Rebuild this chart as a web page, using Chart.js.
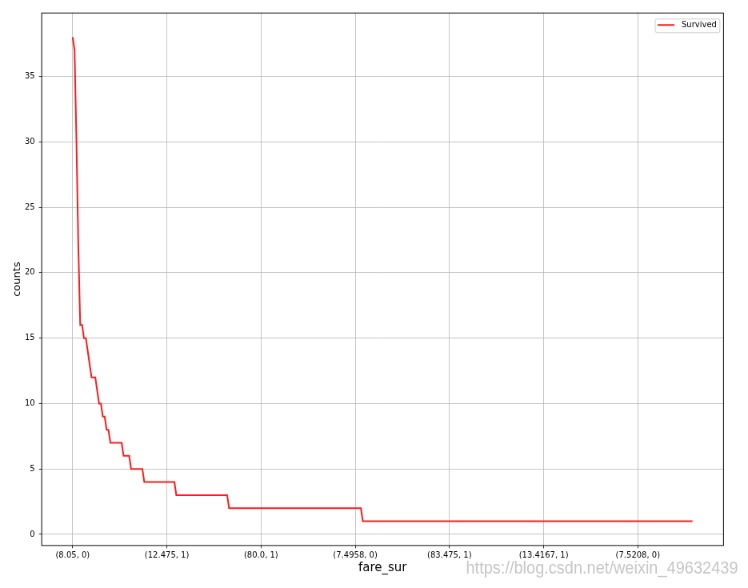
<!DOCTYPE html>
<html>
<head>
<meta charset="utf-8">
<script src="https://cdn.jsdelivr.net/npm/chart.js@4.4.1/dist/chart.umd.min.js"></script>
<style>
html,body{margin:0;padding:0;background:#fff;overflow:hidden}
#c{display:block;width:748px;height:588px}
</style>
</head>
<body>
<canvas id="c" width="935" height="735" style="width:748px;height:588px"></canvas>
<script>
// ---------- data ----------
const seriesName = 'Survived';
const xTitle = 'fare_sur';
const yTitle = 'counts';
const xTickIndex = [0, 50, 100, 150, 200, 250, 300];
const xTickLabels = ['(8.05, 0)', '(12.475, 1)', '(80.0, 1)', '(7.4958, 0)', '(83.475, 1)', '(13.4167, 1)', '(7.5208, 0)'];
const yTickValues = [0, 5, 10, 15, 20, 25, 30, 35];
const survivedCounts = [
  38,37,30,22,16,16,15,15,14,13,12,12,12,11,10,10,9,9,8,8,
  7,7,7,7,7,7,7,
  6,6,6,6,
  5,5,5,5,5,5,5,
  4,4,4,4,4,4,4,4,4,4,4,4,4,4,4,4,4,
  3,3,3,3,3,3,3,3,3,3,3,3,3,3,
  3,3,3,3,3,3,3,3,3,3,3,3,3,3,
  2,2,2,2,2,2,2,2,2,2,
  2,2,2,2,2,2,2,2,2,2,
  2,2,2,2,2,2,2,2,2,2,
  2,2,2,2,2,2,2,2,2,2,
  2,2,2,2,2,2,2,2,2,2,
  2,2,2,2,2,2,2,2,2,2,
  2,2,2,2,2,2,2,2,2,2,
  2,
  1,1,1,1,1,1,1,1,1,1,1,1,1,1,1,1,1,1,1,1,
  1,1,1,1,1,1,1,1,1,1,1,1,1,1,1,1,1,1,1,1,
  1,1,1,1,1,1,1,1,1,1,1,1,1,1,1,1,1,1,1,1,
  1,1,1,1,1,1,1,1,1,1,1,1,1,1,1,1,1,1,1,1,
  1,1,1,1,1,1,1,1,1,1,1,1,1,1,1,1,1,1,1,1,
  1,1,1,1,1,1,1,1,1,1,1,1,1,1,1,1,1,1,1,1,
  1,1,1,1,1,1,1,1,1,1,1,1,1,1,1,1,1,1,1,1,
  1,1,1,1,1,1,1,1,1,1,1,1,1,1,1,1,1,1,1,1,
  1,1,1,1,1,1,1,1,1,1,1,1,1,1,1,1
];
const watermarkText = 'https://blog.csdn.net/weixin_49632439';

// ---------- layout (internal canvas is scaled down to 748x588 like the reference) ----------
const W = 935, H = 735;
const SX = 748 / W, SY = 588 / H;
const plotLeft = 41.7 / SX, plotRight = 723.5 / SX, plotTop = 13 / SY, plotBottom = 545.5 / SY;
const N = survivedCounts.length;
const FONT = '"DejaVu Sans", "Liberation Sans", sans-serif';
Chart.defaults.font.family = FONT;
Chart.defaults.color = '#000';

const framePlugin = {
  id: 'frame',
  afterDatasetsDraw(chart) {
    const {ctx, chartArea: a} = chart;
    ctx.save();
    ctx.strokeStyle = '#000';
    ctx.lineWidth = 1;
    ctx.strokeRect(a.left, a.top, a.right - a.left, a.bottom - a.top);
    ctx.restore();
  }
};

const legendPlugin = {
  id: 'mplLegend',
  afterDraw(chart) {
    const {ctx, chartArea: a} = chart;
    const ds = chart.data.datasets[0];
    ctx.save();
    ctx.font = '10px ' + FONT;
    const tw = ctx.measureText(ds.label).width;
    const padL = 3, hl = 21, htp = 9, padR = 4;
    const bw = padL + hl + htp + tw + padR;
    const bh = 17;
    const right = a.right - 4.5, top = a.top + 7.5;
    const left = right - bw;
    ctx.beginPath();
    ctx.roundRect(left, top, bw, bh, 2.5);
    ctx.fillStyle = 'rgba(255,255,255,0.8)';
    ctx.fill();
    ctx.strokeStyle = '#cccccc';
    ctx.lineWidth = 1;
    ctx.stroke();
    const cy = top + bh / 2 - 1;
    ctx.beginPath();
    ctx.moveTo(left + padL, cy);
    ctx.lineTo(left + padL + hl, cy);
    ctx.strokeStyle = ds.borderColor;
    ctx.lineWidth = ds.borderWidth;
    ctx.stroke();
    ctx.fillStyle = '#000';
    ctx.textBaseline = 'middle';
    ctx.textAlign = 'left';
    ctx.fillText(ds.label, left + padL + hl + htp, cy + 0.5);
    ctx.restore();
  }
};

const watermarkPlugin = {
  id: 'watermark',
  afterDraw(chart) {
    const ctx = chart.ctx;
    ctx.save();
    ctx.setTransform(1 / SX, 0, 0, 1 / SY, 0, 0); // draw in on-screen pixels
    ctx.font = '17px "Liberation Sans", Arial, sans-serif';
    const w = ctx.measureText(watermarkText).width;
    const target = 272;
    ctx.translate(466, 569);
    ctx.scale(target / w, 1);
    ctx.fillStyle = 'rgba(195,195,195,0.95)';
    ctx.textBaseline = 'middle';
    ctx.textAlign = 'left';
    ctx.fillText(watermarkText, 0, 0);
    ctx.restore();
  }
};

new Chart(document.getElementById('c'), {
  type: 'line',
  data: {
    datasets: [{
      label: seriesName,
      data: survivedCounts.map((v, i) => ({x: i, y: v})),
      borderColor: '#ff1a1a',
      borderWidth: 2,
      pointRadius: 0,
      tension: 0,
      fill: false
    }]
  },
  options: {
    responsive: false,
    devicePixelRatio: 1,
    animation: false,
    layout: {padding: {left: 0, top: plotTop, right: W - plotRight, bottom: 0}},
    plugins: {legend: {display: false}, tooltip: {enabled: false}},
    scales: {
      x: {
        type: 'linear',
        min: -0.05 * (N - 1),
        max: 1.05 * (N - 1),
        afterFit(s) { s.height = H - plotBottom; },
        afterBuildTicks(s) { s.ticks = xTickIndex.map(v => ({value: v})); },
        ticks: {
          font: {size: 10},
          color: '#000',
          padding: 3.5,
          maxRotation: 0,
          autoSkip: false,
          callback(v) { const k = xTickIndex.indexOf(v); return k >= 0 ? xTickLabels[k] : ''; }
        },
        grid: {color: '#b8b8b8', lineWidth: 0.8, tickLength: 3.5, tickColor: '#000', tickWidth: 0.8},
        border: {display: false},
        title: {display: true, text: xTitle, font: {size: 15}, color: '#000', padding: {top: 0, bottom: 16}}
      },
      y: {
        type: 'linear',
        min: -0.85,
        max: 39.85,
        afterFit(s) { s.width = plotLeft; },
        afterBuildTicks(s) { s.ticks = yTickValues.map(v => ({value: v})); },
        ticks: {font: {size: 10}, color: '#000', padding: 5, autoSkip: false},
        grid: {color: '#b8b8b8', lineWidth: 0.8, tickLength: 3.5, tickColor: '#000', tickWidth: 0.8},
        border: {display: false},
        title: {display: true, text: yTitle, font: {size: 13}, color: '#000', padding: {top: 13.5, bottom: 0}}
      }
    }
  },
  plugins: [framePlugin, legendPlugin, watermarkPlugin]
});
</script>
</body>
</html>
